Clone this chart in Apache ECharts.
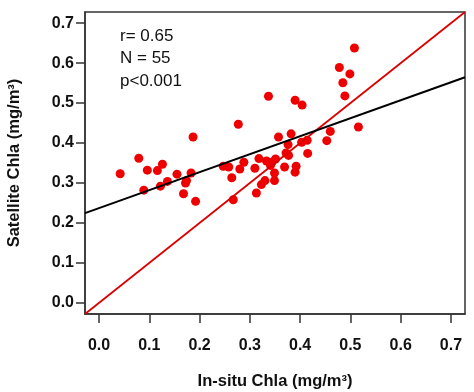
<!DOCTYPE html>
<html><head><meta charset="utf-8">
<script src="https://cdn.jsdelivr.net/npm/echarts@6/dist/echarts.min.js"></script>
<style>html,body{margin:0;padding:0;background:#fff}#c{width:474px;height:392px}</style>
</head><body><div id="c"></div>
<script>
var inSitu = [0.508,0.478,0.499,0.485,0.489,0.404,0.390,0.516,0.337,0.277,0.187,0.357,0.382,0.376,0.403,0.414,0.460,0.453,0.415,0.372,0.377,0.351,0.369,0.392,0.349,0.349,0.390,0.247,0.258,0.288,0.280,0.264,0.318,0.310,0.333,0.341,0.330,0.323,0.313,0.267,0.192,0.042,0.079,0.096,0.089,0.116,0.126,0.122,0.136,0.155,0.172,0.174,0.168,0.183,0.344];
var satellite = [0.638,0.589,0.573,0.551,0.518,0.495,0.507,0.440,0.517,0.447,0.415,0.415,0.423,0.396,0.402,0.407,0.429,0.406,0.374,0.375,0.369,0.360,0.340,0.342,0.325,0.306,0.327,0.342,0.340,0.352,0.335,0.313,0.361,0.337,0.355,0.344,0.306,0.296,0.275,0.258,0.254,0.323,0.362,0.332,0.282,0.331,0.347,0.292,0.304,0.322,0.300,0.306,0.273,0.325,0.352];
var tickValues = [0.0,0.1,0.2,0.3,0.4,0.5,0.6,0.7];
var axisMin = -0.028, axisMax = 0.728;
var regIntercept = 0.237, regSlope = 0.45;
var statsText = ['r= 0.65','N = 55','p<0.001'];

var pts = inSitu.map(function(x,i){return [x, satellite[i]];});
var oneToOne = [[axisMin,axisMin],[axisMax,axisMax]];
var regLine = [[axisMin, regIntercept+regSlope*axisMin],[axisMax, regIntercept+regSlope*axisMax]];

var chart = echarts.init(document.getElementById('c'), null, {renderer:'canvas'});
var labelStyle = {fontFamily:'Liberation Sans, Arial, sans-serif', fontWeight:'bold', fontSize:16, color:'#111'};
function axisCfg(isX){
  return {
    type:'value', min:axisMin, max:axisMax,
    axisLine:{show:true, onZero:false, lineStyle:{color:'#333', width:1.5}},
    axisTick:{show:true, length:9, customValues:tickValues, lineStyle:{color:'#333', width:1.5}},
    axisLabel:Object.assign({customValues:tickValues, margin: isX?24:11, formatter:function(v){return v.toFixed(1);}}, labelStyle),
    splitLine:{show:false},
    name: isX ? 'In-situ Chla (mg/m³)' : 'Satellite Chla (mg/m³)',
    nameLocation:'middle', nameGap: isX?59:62,
    nameTextStyle:{fontFamily:'Liberation Sans, Arial, sans-serif', fontWeight:'bold', fontSize:16.5, color:'#111'}
  };
}
chart.setOption({
  animation:false,
  grid:{left:85, top:12, right:9, bottom:78, containLabel:false, outerBoundsMode:'none', show:true, borderColor:'#333', borderWidth:1.5, backgroundColor:'transparent'},
  xAxis:axisCfg(true),
  yAxis:axisCfg(false),
  graphic:[{type:'text', left:120, top:25, style:{text:statsText.join('\n'), fontFamily:'Liberation Sans, Arial, sans-serif', fontSize:17, lineHeight:22.5, fill:'#111'}}],
  series:[
    {type:'scatter', data:pts, symbolSize:9, itemStyle:{color:'#ee0000', opacity:1}, z:2},
    {type:'line', data:oneToOne, symbol:'none', lineStyle:{color:'#dd0000', width:1.8}, z:3},
    {type:'line', data:regLine, symbol:'none', lineStyle:{color:'#000', width:2}, z:4}
  ]
});
</script></body></html>
